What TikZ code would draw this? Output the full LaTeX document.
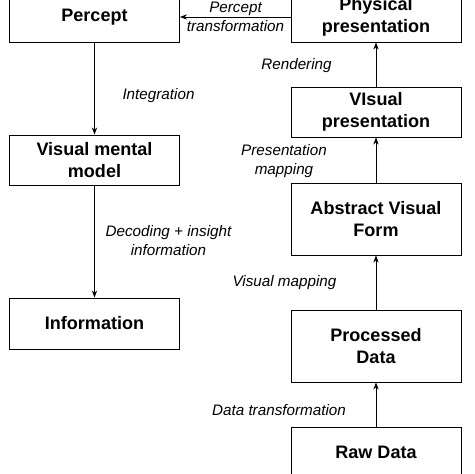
\documentclass[tikz,border=0pt]{standalone}
\usepackage{fontspec}
\setmainfont{Liberation Sans}
\usepackage{tikz}
\usetikzlibrary{arrows.meta,positioning}

\begin{document}
\begin{tikzpicture}[x=0.03cm,y=-0.03cm,
	box/.style={draw,line width=0.8pt,minimum width=5.1cm,minimum height=1.5cm,inner sep=2pt,align=center,font=\fontsize{15.4}{18.3}\selectfont\bfseries},
	tall/.style={box,minimum height=2.16cm},
	lab/.style={align=center,inner sep=0pt,font=\fontsize{13}{16.2}\selectfont\itshape},
	flow/.style={-{Stealth[length=6pt,width=4.5pt]},line width=0.6pt}]
	\useasboundingbox (0,0) rectangle (474,474);
	\clip (0,0) rectangle (474,474);
	\node[box] (percept) at (94.5,17) {Percept};
	\node[box] (mental) at (94.5,160) {Visual mental\\model};
	\node[box,minimum height=1.53cm] (info) at (94.5,323.5) {Information};
	\node[box] (phys) at (376,17) {Physical\\presentation};
	\node[box] (vispres) at (376,112) {VIsual\\presentation};
	\node[tall] (abstract) at (376,219) {Abstract Visual\\Form};
	\node[tall] (processed) at (376,346) {Processed\\Data};
	\node[box] (raw) at (376,452) {Raw Data};
	\draw[flow] (phys) -- (percept);
	\draw[flow] (percept) -- (mental);
	\draw[flow] (mental) -- (info);
	\draw[flow] (raw) -- (processed);
	\draw[flow] (processed) -- (abstract);
	\draw[flow] (abstract) -- (vispres);
	\draw[flow] (vispres) -- (phys);
	\node[lab] (ptrans) at (235.5,16.5) {Percept\\transformation};
	\node[lab] (integ) at (158.5,96) {Integration};
	\node[lab] (decode) at (168.5,241) {Decoding + insight\\information};
	\node[lab] (render) at (296.5,66) {Rendering};
	\node[lab] (pmap) at (284,161) {Presentation\\mapping};
	\node[lab] (vmap) at (284.5,283) {Visual mapping};
	\node[lab] (dtrans) at (279,410) {Data transformation};
\end{tikzpicture}
\end{document}
